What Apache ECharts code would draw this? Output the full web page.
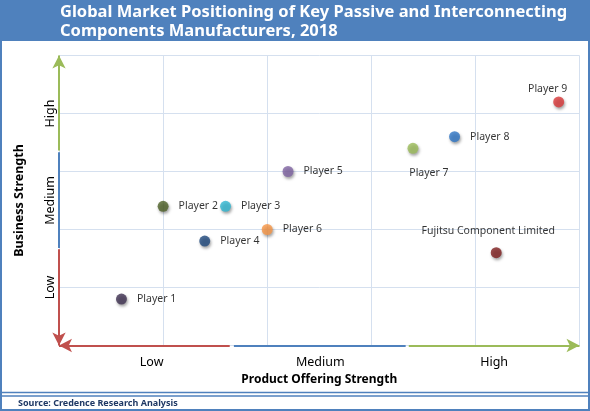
<!DOCTYPE html>
<html>
<head>
<meta charset="utf-8">
<script src="https://cdn.jsdelivr.net/npm/echarts@6/dist/echarts.min.js"></script>
<style>
  html, body { margin: 0; padding: 0; background: #fff; }
  #chart { width: 590px; height: 411px; }
</style>
</head>
<body>
<div id="chart"></div>
<script>
var chartDom = document.getElementById('chart');
var myChart = echarts.init(chartDom);

// data (0..5 scale on both axes)
const players = ['Player 1', 'Player 2', 'Player 3', 'Player 4', 'Player 5',
  'Player 6', 'Player 7', 'Player 8', 'Player 9', 'Fujitsu Component Limited'];
const productStrength = [0.6, 1.0, 1.6, 1.4, 2.2, 2.0, 3.4, 3.8, 4.8, 4.2];
const businessStrength = [0.8, 2.4, 2.4, 1.8, 3.0, 2.0, 3.4, 3.6, 4.2, 1.6];
const levels = ['Low', 'Medium', 'High'];
const xLevelTicks = [0.89, 2.51, 4.18];
const yLevelTicks = [1, 2.5, 4];

const dotColors = ['#3f3151', '#4f6228', '#31b6d1', '#1f497d', '#8064a2',
  '#f79646', '#9bbb59', '#2e75c6', '#d9383a', '#7f1f1f'];
const labelPlace = {
  'Player 7': { position: 'bottom', offset: [16, 4] },
  'Player 9': { position: 'top', offset: [-11, 8] },
  'Fujitsu Component Limited': { position: 'top', offset: [-8, -1] }
};
const arrowColors = { low: '#c0504d', mid: '#4f81bd', high: '#9bbb59' };
const gridColor = '#d5e0ef';
const font = 'Noto Sans';

const levelLookup = (ticks) => (v) => {
  const i = ticks.findIndex(t => Math.abs(t - v) < 1e-6);
  return i >= 0 ? levels[i] : '';
};

const points = players.map((name, i) => {
  const item = {
    name: name,
    value: [productStrength[i], businessStrength[i]],
    itemStyle: { color: dotColors[i] }
  };
  if (labelPlace[name]) item.label = labelPlace[name];
  return item;
});

// coloured axis arrows, one segment per level
const seg = (a, b, color, arrow) => [
  { coord: a, symbol: 'none', lineStyle: { color: color } },
  { coord: b, symbol: arrow ? 'arrow' : 'none', lineStyle: { color: color } }
];

var option = {
  animation: false,
  textStyle: { fontFamily: font },
  graphic: [
    { type: 'rect', z: -10, shape: { x: 0, y: 0, width: 590, height: 41 }, style: { fill: '#4f81bd' } },
    { type: 'rect', z: 100, shape: { x: 1, y: 1, width: 588, height: 409 }, style: { fill: 'none', stroke: '#4f81bd', lineWidth: 2 } },
    { type: 'line', shape: { x1: 0, y1: 392.5, x2: 590, y2: 392.5 }, style: { stroke: '#4f81bd', lineWidth: 1.5 } },
    { type: 'line', shape: { x1: 0, y1: 396, x2: 590, y2: 396 }, style: { stroke: '#4f81bd', lineWidth: 1.5 } }
  ],
  title: [
    {
      text: 'Global Market Positioning of Key Passive and Interconnecting\nComponents Manufacturers, 2018',
      left: 60, top: 3, padding: 0,
      textStyle: { color: '#fff', fontSize: 16.5, fontWeight: 'bold', lineHeight: 19, fontFamily: font }
    },
    {
      text: 'Source: Credence Research Analysis',
      left: 18, top: 396, padding: 0,
      textStyle: { color: '#1f3864', fontSize: 9, fontWeight: 'bold', lineHeight: 14, fontFamily: font }
    }
  ],
  grid: { left: 59, top: 55.5, width: 520.5, height: 290 },
  xAxis: {
    type: 'value', min: 0, max: 5, interval: 1,
    name: 'Product Offering Strength', nameLocation: 'middle', nameGap: 23,
    nameTextStyle: { fontSize: 12, fontWeight: 'bold', color: '#000' },
    axisLine: { show: false }, axisTick: { show: false },
    axisLabel: { customValues: xLevelTicks, formatter: levelLookup(xLevelTicks), color: '#000', fontSize: 12.5, margin: 10 },
    splitLine: { show: true, lineStyle: { color: gridColor, width: 1 } }
  },
  yAxis: {
    type: 'value', min: 0, max: 5, interval: 1,
    name: 'Business Strength', nameLocation: 'middle', nameGap: 33,
    nameTextStyle: { fontSize: 12.5, fontWeight: 'bold', color: '#000' },
    axisLine: { show: false }, axisTick: { show: false },
    axisLabel: { customValues: yLevelTicks, formatter: levelLookup(yLevelTicks), rotate: 90, color: '#000', fontSize: 12.5, margin: 2 },
    splitLine: { show: true, lineStyle: { color: gridColor, width: 1 } }
  },
  series: [
    {
      type: 'scatter',
      clip: false,
      symbolSize: 11,
      data: points,
      itemStyle: { shadowBlur: 3, shadowColor: 'rgba(0,0,0,0.45)', shadowOffsetX: 1, shadowOffsetY: 2 },
      label: {
        show: true, position: 'right', distance: 10, color: '#000', fontSize: 10.5,
        formatter: (p) => p.name
      },
      markLine: {
        silent: true,
        symbolSize: [10, 13],
        label: { show: false },
        lineStyle: { width: 2, type: 'solid' },
        data: [
          seg([1.64, 0], [0, 0], arrowColors.low, true),
          seg([1.68, 0], [3.33, 0], arrowColors.mid, false),
          seg([3.36, 0], [5, 0], arrowColors.high, true),
          seg([0, 1.66], [0, 0], arrowColors.low, true),
          seg([0, 1.68], [0, 3.33], arrowColors.mid, false),
          seg([0, 3.36], [0, 5], arrowColors.high, true)
        ]
      }
    }
  ]
};

option && myChart.setOption(option);

window.addEventListener('resize', function () {
  myChart.resize();
});
</script>
</body>
</html>
